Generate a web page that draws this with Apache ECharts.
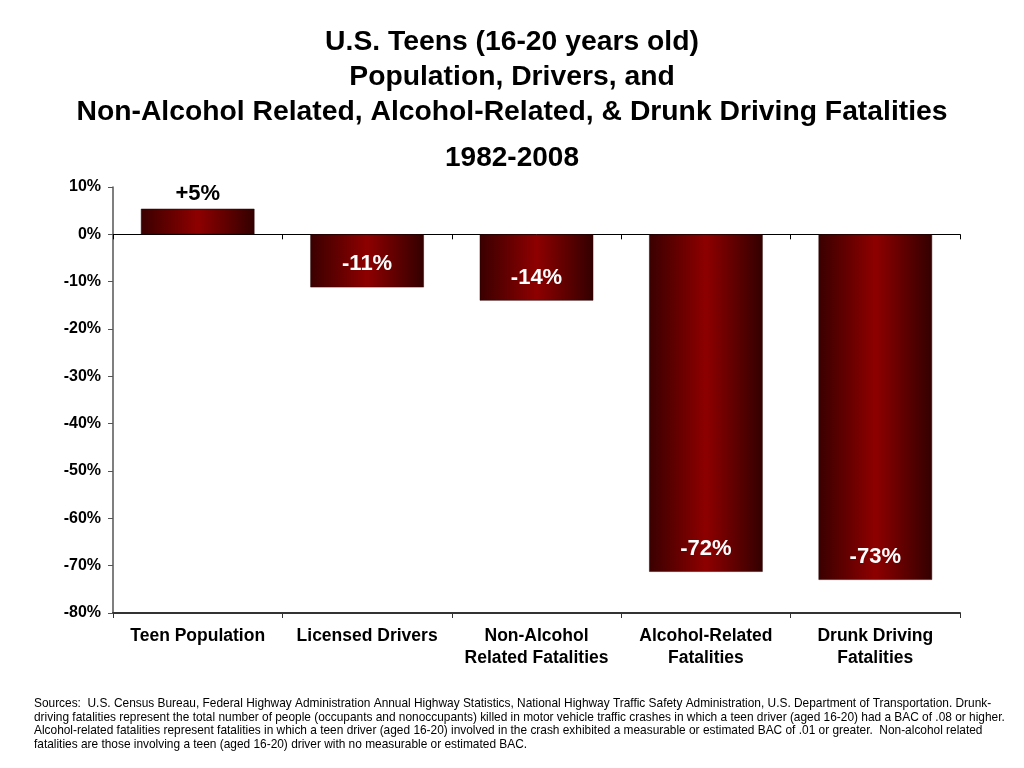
<!DOCTYPE html>
<html><head><meta charset="utf-8">
<script src="https://cdn.jsdelivr.net/npm/echarts@6/dist/echarts.min.js"></script>
<style>html,body{margin:0;padding:0;background:#fff}#c{width:1024px;height:768px}</style>
</head><body><div id="c"></div>
<script>
var categories = ['Teen Population', 'Licensed Drivers', 'Non-Alcohol\nRelated Fatalities', 'Alcohol-Related\nFatalities', 'Drunk Driving\nFatalities'];
var values = [5.4, -11.2, -14.0, -71.3, -73.0];
var valueLabels = ['+5%', '-11%', '-14%', '-72%', '-73%'];
var yTicks = {min: -80, max: 10, interval: 10};
var titleLines = ['U.S. Teens (16-20 years old)', 'Population, Drivers, and', 'Non-Alcohol Related, Alcohol-Related, & Drunk Driving Fatalities'];
var subtitle = '1982-2008';
var sourceLines = [
 'Sources:  U.S. Census Bureau, Federal Highway Administration Annual Highway Statistics, National Highway Traffic Safety Administration, U.S. Department of Transportation. Drunk-',
 'driving fatalities represent the total number of people (occupants and nonoccupants) killed in motor vehicle traffic crashes in which a teen driver (aged 16-20) had a BAC of .08 or higher.',
 'Alcohol-related fatalities represent fatalities in which a teen driver (aged 16-20) involved in the crash exhibited a measurable or estimated BAC of .01 or greater.  Non-alcohol related',
 'fatalities are those involving a teen (aged 16-20) driver with no measurable or estimated BAC.'
];

var grad = new echarts.graphic.LinearGradient(0, 0, 1, 0, [
  {offset: 0, color: '#3a0000'},
  {offset: 0.5, color: '#8e0000'},
  {offset: 1, color: '#330000'}
]);
var FONT = 'Liberation Sans, Arial, sans-serif';
var data = values.map(function(v, i){
  var pos = v >= 0;
  return {
    value: v,
    label: {
      show: true,
      formatter: valueLabels[i],
      position: pos ? 'top' : 'insideBottom',
      distance: pos ? 4 : 12,
      color: pos ? '#000' : '#fff',
      fontSize: 22, fontWeight: 'bold', fontFamily: FONT
    }
  };
});

var chart = echarts.init(document.getElementById('c'), null, {renderer: 'canvas'});
chart.setOption({
  animation: false,
  title: [{
    text: titleLines.join('\n'), left: 'center', top: 20,
    textStyle: {fontSize: 28.3, fontWeight: 'bold', fontFamily: FONT, color: '#000', lineHeight: 35}
  }, {
    text: subtitle, left: 'center', top: 139,
    textStyle: {fontSize: 28, fontWeight: 'bold', fontFamily: FONT, color: '#000'}
  }],
  grid: {left: 113, right: 64, top: 187, bottom: 155, containLabel: false},
  xAxis: [{
    type: 'category', data: categories, position: 'bottom',
    axisLine: {onZero: false, lineStyle: {color: '#333', width: 2}},
    axisTick: {show: true, alignWithLabel: false, length: 5, lineStyle: {color: '#333'}},
    axisLabel: {fontSize: 17.5, fontWeight: 'bold', fontFamily: FONT, color: '#000', margin: 12, lineHeight: 22, interval: 0}
  }, {
    type: 'category', data: categories, position: 'top',
    axisLine: {onZero: true, lineStyle: {color: '#000', width: 1}},
    axisTick: {show: true, inside: true, length: 5, lineStyle: {color: '#000'}},
    axisLabel: {show: false}
  }],
  yAxis: {
    type: 'value', min: yTicks.min, max: yTicks.max, interval: yTicks.interval,
    axisLine: {show: true, lineStyle: {color: '#555', width: 1.5}},
    axisTick: {show: true, length: 5, lineStyle: {color: '#555'}},
    splitLine: {show: false},
    axisLabel: {formatter: '{value}%', fontSize: 16, fontWeight: 'bold', fontFamily: FONT, color: '#000', margin: 12}
  },
  series: [{
    type: 'bar', xAxisIndex: 0, data: data, barCategoryGap: '33%',
    itemStyle: {color: grad, borderColor: '#2a0000', borderWidth: 0.5}
  }],
  graphic: [{
    type: 'text', left: 34, top: 697,
    style: {text: sourceLines.join('\n'), fontSize: 11.9, fontFamily: FONT, fill: '#000', lineHeight: 13.5}
  }]
});
</script></body></html>
